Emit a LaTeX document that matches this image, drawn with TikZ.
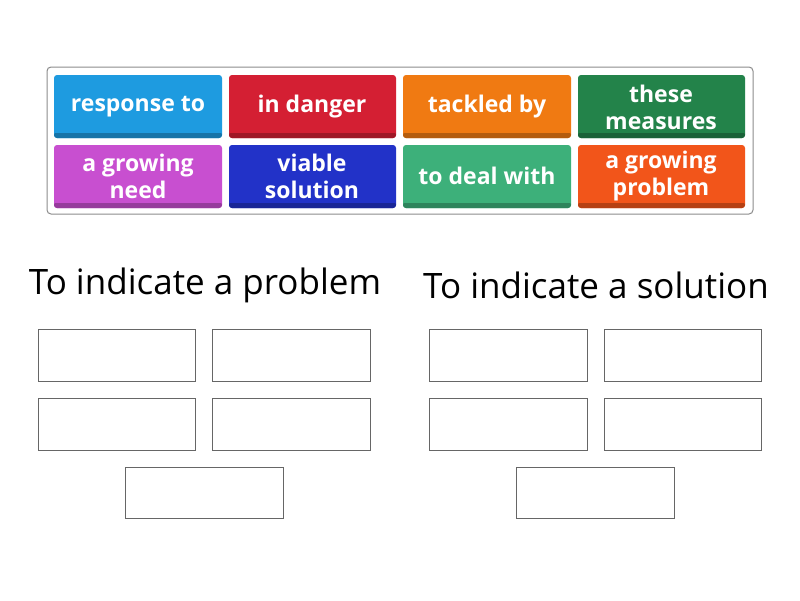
\documentclass[tikz,border=0pt]{standalone}
\usepackage{fontspec}
\setmainfont{Open Sans}
\begin{document}
\begin{tikzpicture}[x=1pt,y=-1pt,
  tile/.style={text=white,font=\fontsize{23}{27}\selectfont\bfseries,align=center},
  slot/.style={draw=gray!80!black,fill=white,line width=0.8pt},
  head/.style={font=\fontsize{35}{38}\selectfont}]
\useasboundingbox (0,0) rectangle (800,600);
\fill[white] (0,0) rectangle (800,600);
\draw[gray!90,line width=1pt,rounded corners=4pt] (47,67) rectangle (753,214);
\definecolor{cA}{HTML}{1E9BE0}\definecolor{cB}{HTML}{D41F33}
\definecolor{cC}{HTML}{F07A12}\definecolor{cD}{HTML}{23834A}
\definecolor{cE}{HTML}{C84FD0}\definecolor{cF}{HTML}{2232C8}
\definecolor{cG}{HTML}{3DB07A}\definecolor{cH}{HTML}{F2551A}
\foreach \a/\b/\c/\d/\col in {54/75/222/138/cA,229/75/396/138/cB,403/75/571/138/cC,578/75/745/138/cD,54/145/222/208/cE,229/145/396/208/cF,403/145/571/208/cG,578/145/745/208/cH}{
  \fill[\col,rounded corners=3pt] (\a,\b) rectangle (\c,\d);
  \fill[\col!75!black,rounded corners=3pt] (\a,\d-6) rectangle (\c,\d);
  \fill[\col] (\a,\d-9) rectangle (\c,\d-5);
}
\node[tile] (n1) at (138,107) {response to};
\node[tile] (n2) at (312,107) {in danger};
\node[tile] (n3) at (487,107) {tackled by};
\node[tile] (n4) at (661,107) {these\\measures};
\node[tile] (n5) at (138,176) {a growing\\need};
\node[tile] (n6) at (312,176) {viable\\solution};
\node[tile] (n7) at (487,176) {to deal with};
\node[tile] (n8) at (661,176) {a growing\\problem};
\node[head] (h1) at (205,285) {To indicate a problem};
\node[head] (h2) at (596,285) {To indicate a solution};
\foreach \a/\b/\c/\d in {38/329/195/381,212/329/370/381,38/398/195/450,212/398/370/450,125/467/283/518,
  429/329/587/381,604/329/761/381,429/398/587/450,604/398/761/450,516/467/674/518}
  \draw[slot] (\a,\b) rectangle (\c,\d);
\end{tikzpicture}
\end{document}
